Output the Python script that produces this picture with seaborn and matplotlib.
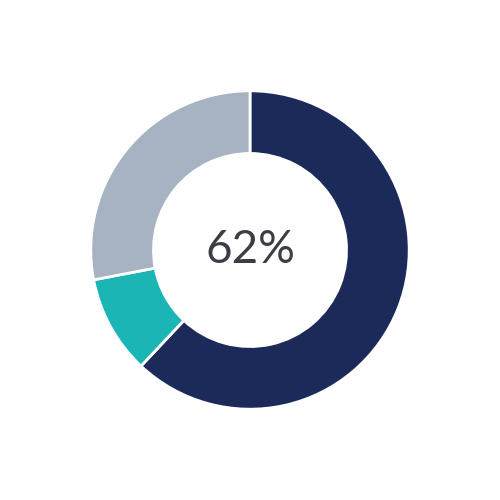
import matplotlib
matplotlib.use("Agg")
import matplotlib.pyplot as plt
import seaborn as sns

sns.set_theme(style="white")
plt.rcParams['font.family'] = ['Lato', 'DejaVu Sans']

labels = ['A', 'B', 'C']
values = [62, 10, 28]
colors = ['#1b2a59', '#1bb5b5', '#a7b3c3']
center_text = '62%'

fig, ax = plt.subplots(figsize=(5, 5), dpi=100)
ax.pie(values, colors=colors, startangle=90, counterclock=False,
       radius=1.245, wedgeprops=dict(width=0.49, edgecolor='white', linewidth=2))
ax.text(0, 0, center_text, ha='center', va='center', fontsize=33, color='#3b3f45')
ax.set_aspect('equal')
ax.set_xlim(-1.25 * 1.245 / 1.245 * 1.22, 1.25 * 1.22)
ax.set_ylim(-1.25 * 1.22, 1.25 * 1.22)
plt.subplots_adjust(left=0.11, right=0.89, bottom=0.11, top=0.89)
fig.savefig('out.png', dpi=100, facecolor='white')
